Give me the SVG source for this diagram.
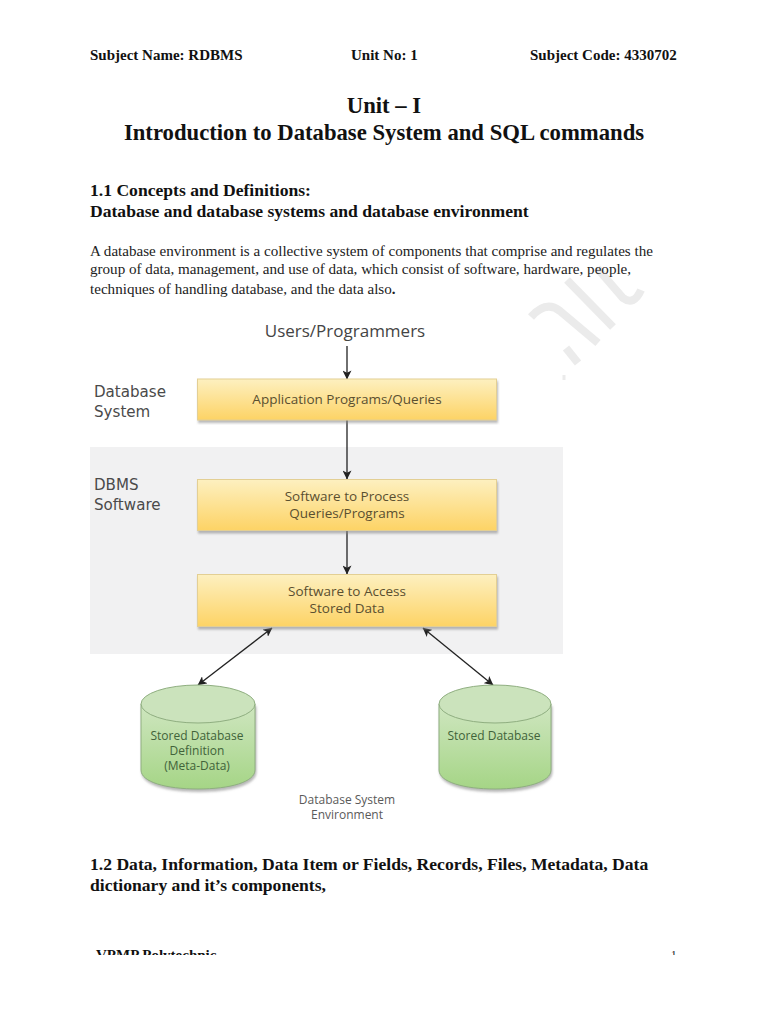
<svg xmlns="http://www.w3.org/2000/svg" width="768" height="1024" viewBox="0 0 768 1024">
<style>
.s{font-family:"Liberation Serif","Times New Roman",serif;fill:#111}
.b{font-weight:bold}
.h{font-size:15px}
.t{font-size:22.700px;text-anchor:middle}
.g{font-size:17.600px}
.p{font-size:15.100px;fill:#222}
.d{font-family:"Open Sans","DejaVu Sans",sans-serif;fill:#444}
.box{fill:url(#yl);stroke:#e3cf94;stroke-width:1;filter:url(#sh)}
.bt{font-size:13.500px;text-anchor:middle;fill:#5a4f30}
.side{font-family:"DejaVu Sans",sans-serif;font-size:15.100px;fill:#4a4a4a}
.cy{fill:url(#gr);stroke:#8fae80;stroke-width:1;filter:url(#sh)}
.top{fill:#cbe3bc;stroke:#8fae80;stroke-width:1}
.ct{font-size:12px;text-anchor:middle;fill:#41633a}
.cap{font-size:12px;text-anchor:middle;fill:#5a5a5a}
.wm{fill:none;stroke:#ebebeb;stroke-width:8}
.c{fill:none;stroke:#222;stroke-width:1.3}
</style>
<defs>
<linearGradient id="yl" x1="0" y1="0" x2="0" y2="1"><stop offset="0" stop-color="#fdf0c0"/><stop offset="1" stop-color="#fdd365"/></linearGradient>
<linearGradient id="gr" x1="0" y1="0" x2="0" y2="1"><stop offset="0" stop-color="#cfe6c0"/><stop offset="1" stop-color="#a5d586"/></linearGradient>
<filter id="sh" x="-5%" y="-5%" width="110%" height="115%"><feDropShadow dx="1" dy="2.500" stdDeviation="1" flood-color="#888" flood-opacity="0.6"/></filter>
<marker id="ar" viewBox="0 0 10 10" refX="9.500" refY="5" markerWidth="9" markerHeight="9" markerUnits="userSpaceOnUse" orient="auto-start-reverse"><path d="M0 0L10 5L0 10L2.500 5Z" fill="#222"/></marker>
<clipPath id="fc"><rect x="0" y="930" width="768" height="25"/></clipPath>
</defs>
<rect width="768" height="1024" fill="#fff"/>
<g id="watermark">
<path class="wm" d="M567 280L613 327"/>
<path class="wm" d="M597 268L623 298Q634 306 641 290"/>
<path class="wm" d="M531 317Q546 300 560 311L598 343"/>
<path class="wm" d="M566 348L578 363"/>
<path class="wm" style="stroke-width:3" d="M564 375L564 380"/>
</g>
<g id="page-text" class="s">
<text class="h b" x="90" y="60">Subject Name: RDBMS</text>
<text class="h b" x="351" y="60">Unit No: 1</text>
<text class="h b" x="530" y="60">Subject Code: 4330702</text>
<text class="t b" x="384" y="113">Unit – I</text>
<text class="t b" x="384" y="140">Introduction to Database System and SQL commands</text>
<text class="g b" x="90" y="196">1.1 Concepts and Definitions:</text>
<text class="g b" x="90" y="217">Database and database systems and database environment</text>
<text class="p" x="90" y="256">A database environment is a collective system of components that comprise and regulates the</text>
<text class="p" x="90" y="274">group of data, management, and use of data, which consist of software, hardware, people,</text>
<text class="p" x="90" y="294">techniques of handling database, and the data also<tspan class="b">.</tspan></text>
<text class="g b" x="90" y="870">1.2 Data, Information, Data Item or Fields, Records, Files, Metadata, Data</text>
<text class="g b" x="90" y="891">dictionary and it’s components,</text>
<g clip-path="url(#fc)">
<text class="h b" x="96" y="960">VPMP Polytechnic</text>
<text x="671" y="958" font-size="11">1</text>
</g>
</g>
<rect id="dbms-band" x="90" y="447" width="473" height="207" fill="#f1f1f2"/>
<g id="connectors">
<path class="c" marker-end="url(#ar)" d="M347 346V379"/>
<path class="c" marker-end="url(#ar)" d="M347 420V479"/>
<path class="c" marker-end="url(#ar)" d="M347 531V574"/>
<path class="c" marker-start="url(#ar)" marker-end="url(#ar)" d="M198 685L272 628"/>
<path class="c" marker-start="url(#ar)" marker-end="url(#ar)" d="M493 685L423 628"/>
</g>
<g id="users" class="d"><text x="345" y="337" font-size="17" text-anchor="middle">Users/Programmers</text></g>
<g id="label-database-system">
<text class="side" x="94" y="397">Database</text>
<text class="side" x="94" y="417">System</text>
</g>
<g id="label-dbms-software">
<text class="side" x="94" y="490">DBMS</text>
<text class="side" x="94" y="510">Software</text>
</g>
<g id="app-programs">
<rect class="box" x="197.500" y="379" width="299" height="41"/>
<text class="d bt" x="347" y="404">Application Programs/Queries</text>
</g>
<g id="process">
<rect class="box" x="197.500" y="479.500" width="299" height="51"/>
<text class="d bt" x="347" y="501">Software to Process</text>
<text class="d bt" x="347" y="518">Queries/Programs</text>
</g>
<g id="access">
<rect class="box" x="197.500" y="574.500" width="299" height="52"/>
<text class="d bt" x="347" y="596">Software to Access</text>
<text class="d bt" x="347" y="613">Stored Data</text>
</g>
<g id="meta-db">
<path class="cy" d="M141 704V770C141 782 166 789 198 789C230 789 255 782 255 770V704Z"/>
<ellipse class="top" cx="198" cy="704" rx="57" ry="19"/>
<text class="d ct" x="197" y="740">Stored Database</text>
<text class="d ct" x="197" y="755">Definition</text>
<text class="d ct" x="197" y="770">(Meta-Data)</text>
</g>
<g id="stored-db">
<path class="cy" d="M439 704V770C439 782 464 789 495 789C526 789 551 782 551 770V704Z"/>
<ellipse class="top" cx="495" cy="704" rx="56" ry="19"/>
<text class="d ct" x="494" y="740">Stored Database</text>
</g>
<g id="caption" class="d">
<text class="cap" x="347" y="804">Database System</text>
<text class="cap" x="347" y="819">Environment</text>
</g>
</svg>
